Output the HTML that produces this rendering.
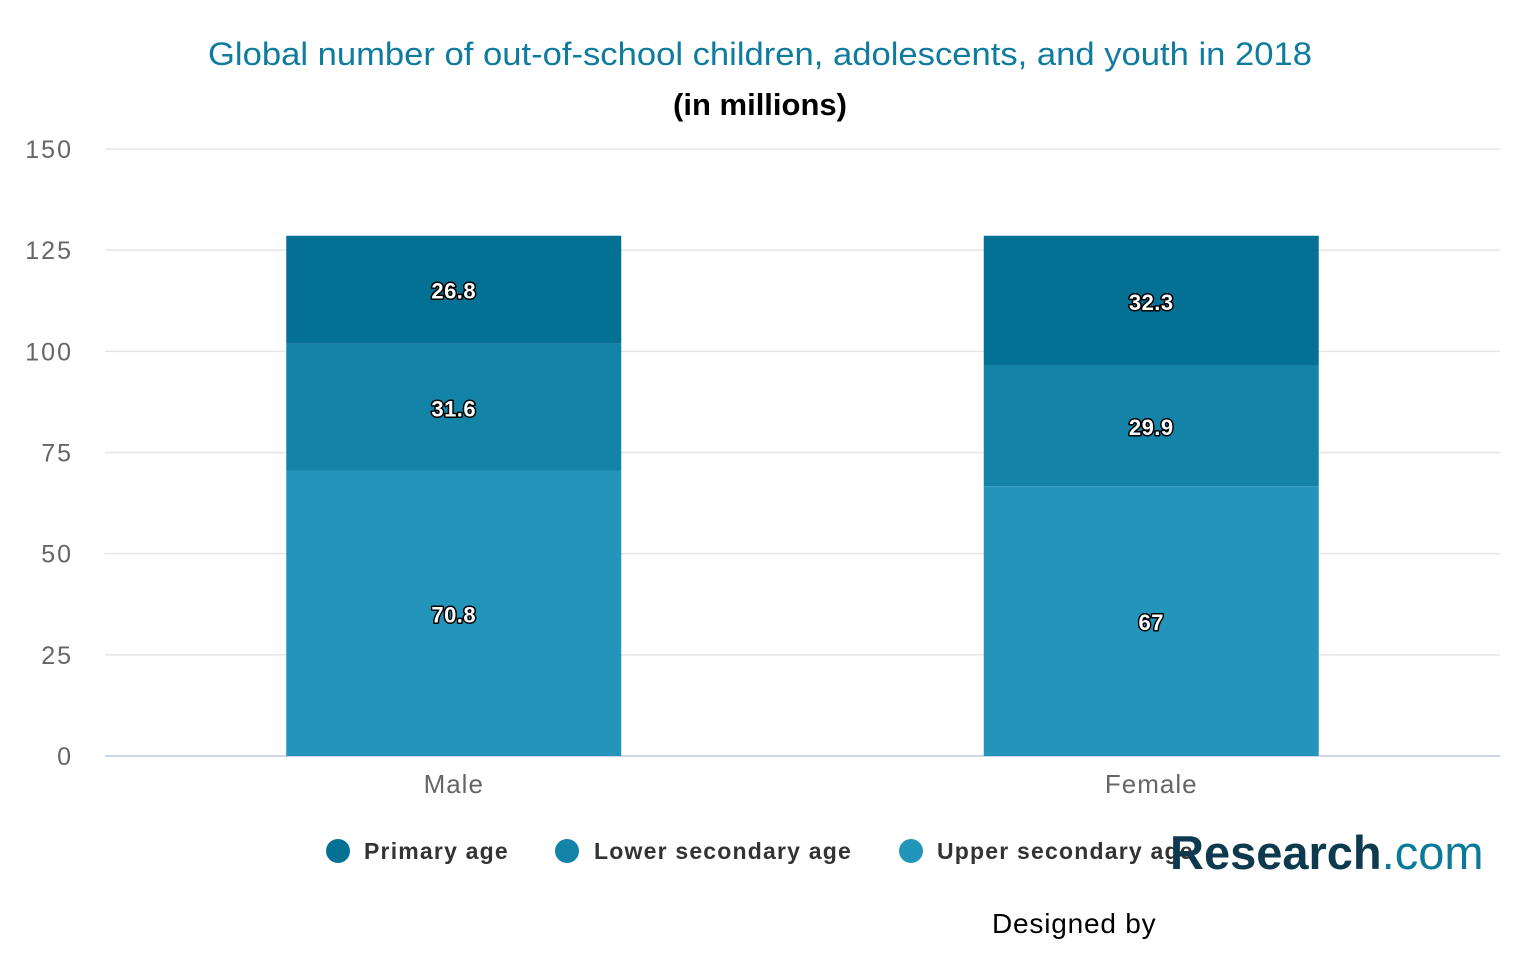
<!DOCTYPE html>
<html><head><meta charset="utf-8">
<style>
html,body{margin:0;padding:0;background:#fff;}
svg{display:block;font-family:"Liberation Sans","DejaVu Sans",sans-serif;}
.lbl{font-weight:bold;font-size:22px;fill:#fff;stroke:#000;stroke-width:3px;paint-order:stroke;stroke-linejoin:round;letter-spacing:0.5px;}
</style></head>
<body>
<svg id="chart" width="1520" height="970">
<text x="760" y="65" text-anchor="middle" font-size="32.4" textLength="1104" lengthAdjust="spacingAndGlyphs" fill="#0f7b9e">Global number of out-of-school children, adolescents, and youth in 2018</text>
<text x="760" y="115" text-anchor="middle" font-size="31" font-weight="bold" fill="#000">(in millions)</text>
<g id="grid"></g><g id="bars"></g><g id="labels"></g>
<g font-size="23" font-weight="bold" fill="#333" letter-spacing="1.2">
<g><circle cx="338" cy="851" r="12" fill="#037094"/><text x="364" y="859">Primary age</text></g>
<g><circle cx="567" cy="851" r="12" fill="#1483a8"/><text x="594" y="859">Lower secondary age</text></g>
<g><circle cx="911" cy="851" r="12" fill="#2395ba"/><text x="937" y="859">Upper secondary age</text></g>
</g>
<text x="1170" y="869" font-size="47" font-weight="bold" fill="#0d3a4f">Research<tspan fill="#0a7a99" font-weight="normal">.com</tspan></text>
<text x="992" y="933" font-size="28" fill="#000" letter-spacing="0.8">Designed by</text>
</svg>
<script>
const categories = ["Male", "Female"];
const seriesNames = ["Upper secondary age", "Lower secondary age", "Primary age"];
const upperValues = [70.8, 67];
const lowerValues = [31.6, 29.9];
const primaryValues = [26.8, 32.3];
const yTicks = [0, 25, 50, 75, 100, 125, 150];

const NS = "http://www.w3.org/2000/svg";
const left = 105, right = 1500, y0 = 756, yTop = 152, yMax = 150;
const y = v => y0 - v * (y0 - yTop) / yMax;
const gy = v => y0 - v * (y0 - 149) / yMax;
const band = (right - left) / categories.length;
const xc = i => left + band * (i + 0.5);
const barW = 335;
const colors = ["#2395ba", "#1483a8", "#037094"];
const series = [upperValues, lowerValues, primaryValues];
function mk(tag, attrs, parent){const e=document.createElementNS(NS,tag);for(const k in attrs)e.setAttribute(k,attrs[k]);parent.appendChild(e);return e;}
const grid = document.getElementById("grid");
yTicks.forEach(t=>{
  const l = mk("line",{x1:left,x2:right,y1:gy(t),y2:gy(t),stroke:t===0?"#ccd6eb":"#e6e6e6","stroke-width":t===0?2:1.5},grid);
  
  
  const tx = mk("text",{x:73,y:gy(t)+9,"text-anchor":"end","font-size":25,fill:"#666","letter-spacing":2},grid);
  tx.textContent = t;
  
  
});
categories.forEach((c,i)=>{
  const tx = mk("text",{x:xc(i),y:793,"text-anchor":"middle","font-size":26,fill:"#666","letter-spacing":1},grid);
  tx.textContent = c;
  
  
});
const bars = document.getElementById("bars"), labels = document.getElementById("labels");
categories.forEach((c,i)=>{
  let base = 0;
  series.forEach((s,k)=>{
    const v = s[i];
    const r = mk("rect",{x:xc(i)-barW/2,y:y(base+v),width:barW,height:y(base)-y(base+v),fill:colors[k]},bars);
    
    
    const t = mk("text",{x:xc(i),y:(y(base)+y(base+v))/2+9,"text-anchor":"middle",class:"lbl"},labels);
    t.textContent = v;
    
    
    base += v;
  });
});
</script>
</body></html>
